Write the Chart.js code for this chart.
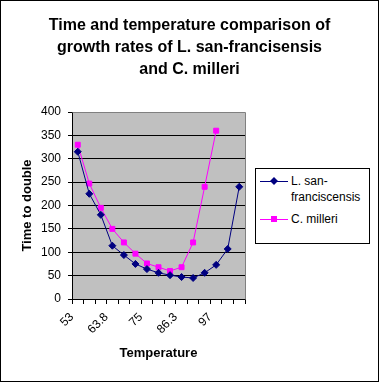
<!DOCTYPE html>
<html>
<head>
<meta charset="utf-8">
<script src="https://cdn.jsdelivr.net/npm/chart.js@4/dist/chart.umd.min.js"></script>
<style>
  html, body { margin: 0; padding: 0; background: #fff; }
  #wrap { position: relative; width: 379px; height: 382px; }
  canvas { position: absolute; left: 0; top: 0; }
  #legend { position: absolute; left: 255px; top: 168px; width: 113px; height: 74px; border: 1px solid #000; background: #fff;
            font-family: "Liberation Sans", Arial, sans-serif; font-size: 12px; color: #000; }
  .item { position: absolute; left: 0; }
  .item svg { position: absolute; left: 4px; }
  .item span { position: absolute; left: 35px; white-space: nowrap; line-height: 16px; }
</style>
</head>
<body>
<div id="wrap">
  <canvas id="c" width="379" height="382"></canvas>
  <div id="legend"></div>
</div>
<script>
// ---- data ----
const title = ["Time and temperature comparison of", "growth rates of L. san-francisensis", "and C. milleri"];
const temperatures = ["53", "56.6", "60.2", "63.8", "67.5", "71.3", "75", "78.8", "82.5", "86.3", "89.9", "93.5", "97", "100.5", "104"];
const seriesNames = ["L. san-franciscensis", "C. milleri"];
const lSanFranciscensis = [315, 225, 180, 114, 94, 75, 64, 56, 51, 47, 45, 56, 73, 107, 240];
const cMilleri = [330, 247, 195, 150, 121, 97, 76, 68, 60, 68, 121, 240, 360];
const yTitle = "Time to double";
const xTitle = "Temperature";

const FONT = '"Liberation Sans", Arial, sans-serif';

const bgPlugin = {
  id: 'bg',
  beforeDraw(chart) {
    const {ctx, chartArea: a} = chart;
    ctx.save();
    ctx.fillStyle = '#fff';
    ctx.fillRect(0, 0, chart.width, chart.height);
    ctx.fillStyle = '#C0C0C0';
    ctx.fillRect(a.left, a.top, a.right - a.left, a.bottom - a.top);
    ctx.restore();
  },
  beforeDatasetsDraw(chart) {
    const {ctx, chartArea: a} = chart;
    ctx.save();
    ctx.strokeStyle = '#808080';
    ctx.lineWidth = 1;
    ctx.beginPath();
    ctx.moveTo(Math.round(a.left) + 0.5, Math.round(a.top) + 0.5);
    ctx.lineTo(Math.round(a.right) + 0.5, Math.round(a.top) + 0.5);
    ctx.lineTo(Math.round(a.right) + 0.5, Math.round(a.bottom) + 0.5);
    ctx.stroke();
    ctx.restore();
  },
  afterDraw(chart) {
    const {ctx} = chart;
    ctx.save();
    ctx.strokeStyle = '#000';
    ctx.lineWidth = 1;
    ctx.strokeRect(0.5, 0.5, chart.width - 1, chart.height - 1);
    ctx.restore();
  }
};

const chart = new Chart(document.getElementById('c'), {
  type: 'line',
  data: {
    labels: temperatures,
    datasets: [
      { label: seriesNames[0], data: lSanFranciscensis, borderColor: '#000080', backgroundColor: '#000080',
        borderWidth: 1, pointStyle: 'rectRot', pointRadius: 3.5, pointBorderWidth: 1, tension: 0, yAxisID: 'y' },
      { label: seriesNames[1], data: cMilleri, borderColor: '#FF00FF', backgroundColor: '#FF00FF',
        borderWidth: 1, pointStyle: 'rect', pointRadius: 3.5, pointBorderWidth: 1, tension: 0, yAxisID: 'y' }
    ]
  },
  options: {
    responsive: false,
    animation: false,
    events: [],
    layout: { padding: 0 },
    plugins: {
      legend: { display: false },
      tooltip: { enabled: false },
      title: {
        display: true, text: title, color: '#000',
        font: { family: FONT, size: 16, weight: 'bold', lineHeight: '22px' },
        padding: { top: 15, bottom: 31 }
      }
    },
    scales: {
      x: {
        type: 'category', offset: true,
        grid: { offset: true, drawOnChartArea: false, drawTicks: true, tickLength: 5, color: '#000' },
        border: { color: '#000', width: 1 },
        ticks: {
          autoSkip: false, minRotation: 45, maxRotation: 45, color: '#000', padding: 6, labelOffset: -6,
          font: { family: FONT, size: 12 },
          callback: (v, i) => (i % 3 === 0 ? temperatures[i] : '')
        },
        title: { display: true, text: xTitle, color: '#000', font: { family: FONT, size: 13, weight: 'bold' },
                 padding: { top: 0, bottom: 21 } },
        afterFit(s) { s.height = 83; }
      },
      y: {
        position: 'left', min: 0, max: 400,
        grid: { color: '#000', drawTicks: true, tickLength: 4 },
        border: { color: '#000', width: 1 },
        ticks: { stepSize: 50, color: '#000', padding: 7, font: { family: FONT, size: 12 } },
        title: { display: true, text: yTitle, color: '#000', font: { family: FONT, size: 13, weight: 'bold' },
                 padding: { top: 20, bottom: 0 } },
        afterFit(s) { s.width = 72; }
      },
      yR: {
        position: 'right', display: true, min: 0, max: 400,
        grid: { display: false, drawTicks: false },
        border: { display: false },
        ticks: { display: false },
        afterFit(s) { s.width = 134; }
      }
    }
  },
  plugins: [bgPlugin]
});

// ---- HTML legend built from the dataset definitions ----
const legend = document.getElementById('legend');
const entries = [
  { name: seriesNames[0], color: '#000080', marker: 'diamond', lines: ["L. san-", "franciscensis"], y: 6 },
  { name: seriesNames[1], color: '#FF00FF', marker: 'square', lines: [seriesNames[1]], y: 44 }
];
entries.forEach(e => {
  const div = document.createElement('div');
  div.className = 'item';
  div.style.top = e.y + 'px';
  const m = e.marker === 'diamond'
    ? `<polygon points="14,1 18,5 14,9 10,5" fill="${e.color}" />`
    : `<rect x="11" y="2" width="6" height="6" fill="${e.color}" />`;
  div.innerHTML = `<svg width="28" height="10" style="top:1px"><line x1="0" y1="5.5" x2="28" y2="5.5" stroke="${e.color}" stroke-width="1"/>${m}</svg>` +
    `<span style="top:-2px">${e.lines.join('<br>')}</span>`;
  legend.appendChild(div);
});
</script>
</body>
</html>
